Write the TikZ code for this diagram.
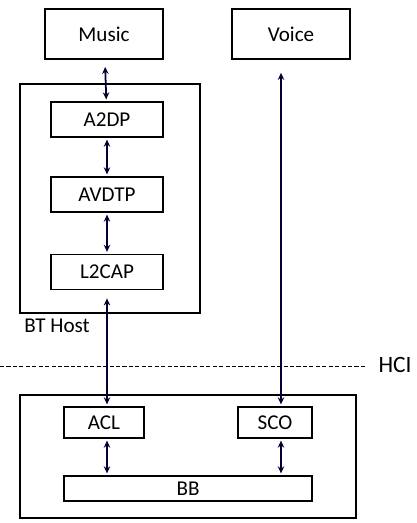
\documentclass[tikz,border=0pt]{standalone}
\usepackage{fontspec}
\setmainfont{Carlito}
\usetikzlibrary{arrows.meta,positioning}

\begin{document}
\begin{tikzpicture}[x=0.03cm,y=-0.03cm,
  font=\fontsize{18}{21}\selectfont,
  blk/.style={draw,line width=1.5pt,inner sep=0pt},
  link/.style={{Stealth[length=6pt,width=5.5pt]}-{Stealth[length=6pt,width=5.5pt]},line width=1.5pt,draw=black!80!blue,shorten >=1.5pt,shorten <=1.5pt}]
\useasboundingbox (0,0) rectangle (417,523);

\node[blk,minimum width=3.54cm,minimum height=1.5cm]	(music)	at (104,34)	{Music};
\node[blk,minimum width=3.54cm,minimum height=1.5cm]	(voice)	at (291,34)	{Voice};
\node[blk,minimum width=5.4cm,minimum height=6.87cm]	(host)	at (110,198.5)	{};
\node[blk,minimum width=3.36cm,minimum height=1.05cm]	(a2dp)	at (107,119.5)	{A2DP};
\node[blk,minimum width=3.36cm,minimum height=1.05cm]	(avdtp)	at (107,194.5)	{AVDTP};
\node[blk,minimum width=3.36cm,minimum height=1.05cm]	(l2cap)	at (107,272)	{L2CAP};
\node[right=1pt] at (host.south west) [anchor=north west,yshift=-1pt] (hostlbl) {BT Host};

% HCI line
\coordinate (hcil) at (0,366);
\coordinate (hcir) at (366,366);
\draw[line width=0.6pt,dash pattern=on 3.5pt off 2pt] (hcil) -- (hcir);
\node (hci) at (395,365) {\fontsize{20}{22}\selectfont HCI};

\node[blk,minimum width=10.08cm,minimum height=3.69cm]	(ctrl)	at (188,456.5)	{};
\node[blk,minimum width=2.4cm,minimum height=0.93cm]	(acl)	at (104,422.5)	{ACL};
\node[blk,minimum width=2.22cm,minimum height=0.93cm]	(sco)	at (275,422.5)	{SCO};
\node[blk,minimum width=7.44cm,minimum height=0.75cm]	(bb)	at (188,488.5)	{BB};
\coordinate (vx) at (281,0);

% Connect nodes
\draw[link,shorten <=0.21cm] (music) -- (a2dp);
\draw[link] (a2dp) -- (avdtp);
\draw[link] (avdtp) -- (l2cap);
\draw[link,shorten <=0.24cm] (l2cap.south) -- (acl.north -| l2cap.south);
\draw[link,shorten <=0.39cm] (voice.south -| vx) -- (sco.north -| vx);
\draw[link] (acl.south -| l2cap.south) -- (bb.north -| l2cap.south);
\draw[link] (sco.south -| vx) -- (bb.north -| vx);

\end{tikzpicture}
\end{document}
